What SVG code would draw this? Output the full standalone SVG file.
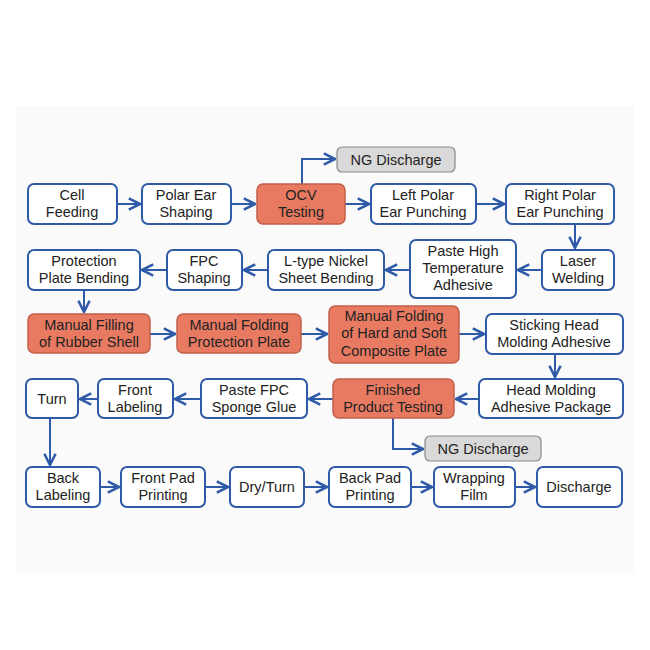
<svg xmlns="http://www.w3.org/2000/svg" width="650" height="650" viewBox="0 0 650 650">
<defs>
<marker id="a" viewBox="0 0 10 10" refX="9" refY="5" markerWidth="7" markerHeight="7" orient="auto"><path d="M1,1 L9,5 L1,9" fill="none" stroke="#2e5aa8" stroke-width="1.8"/></marker>
<style>
.n rect{fill:#fff;stroke:#2e5aa8;stroke-width:2}
.r rect{fill:#e87a62;stroke:#c0604a;stroke-width:1.5}
.g rect{fill:#d9d9d9;stroke:#888;stroke-width:1.2}
text{font-family:"Liberation Sans",Arial,sans-serif;font-size:14.5px;fill:#222;text-anchor:middle}
#c path{fill:none;stroke:#2e5aa8;stroke-width:2;marker-end:url(#a)}
</style>
</defs>
<rect width="650" height="650" fill="#fff"/>
<rect x="16" y="106" width="618" height="466" fill="#fafafa"/>
<g id="c">
<path d="M117,204H140"/><path d="M231,204H255"/><path d="M345,204H369"/><path d="M476,204H504"/>
<path d="M302,184V159H335"/>
<path d="M575,224V248"/><path d="M542,270H518"/><path d="M410,270H386"/><path d="M268,270H244"/><path d="M167,270H142"/>
<path d="M84,290V312"/>
<path d="M150,334H175"/><path d="M301,334H327"/><path d="M459,334H484"/>
<path d="M555,354V377"/><path d="M479,399H456"/><path d="M333,399H309"/><path d="M201,399H175"/><path d="M98,399H80"/>
<path d="M393,418V449H423"/>
<path d="M50,418V465"/>
<path d="M100,487H119"/><path d="M205,487H228"/><path d="M304,487H327"/><path d="M411,487H432"/><path d="M515,487H535"/>
</g>
<g id="n1" class="n"><rect x="28" y="184" width="89" height="40" rx="6"/><text x="72" y="200">Cell</text><text x="72" y="217">Feeding</text></g>
<g id="n2" class="n"><rect x="142" y="184" width="89" height="40" rx="6"/><text x="186" y="200">Polar Ear</text><text x="186" y="217">Shaping</text></g>
<g id="n3" class="r"><rect x="257" y="184" width="88" height="40" rx="6"/><text x="301" y="200">OCV</text><text x="301" y="217">Testing</text></g>
<g id="n4" class="n"><rect x="371" y="184" width="105" height="40" rx="6"/><text x="423" y="200">Left Polar</text><text x="423" y="217">Ear Punching</text></g>
<g id="n5" class="n"><rect x="506" y="184" width="108" height="40" rx="6"/><text x="560" y="200">Right Polar</text><text x="560" y="217">Ear Punching</text></g>
<g id="ng1" class="g"><rect x="337" y="147" width="118" height="25" rx="5"/><text x="396" y="165">NG Discharge</text></g>
<g id="n6" class="n"><rect x="542" y="250" width="72" height="40" rx="6"/><text x="578" y="266">Laser</text><text x="578" y="283">Welding</text></g>
<g id="n7" class="n"><rect x="410" y="240" width="106" height="58" rx="6"/><text x="463" y="256">Paste High</text><text x="463" y="273">Temperature</text><text x="463" y="290">Adhesive</text></g>
<g id="n8" class="n"><rect x="268" y="250" width="116" height="40" rx="6"/><text x="326" y="266">L-type Nickel</text><text x="326" y="283">Sheet Bending</text></g>
<g id="n9" class="n"><rect x="167" y="250" width="75" height="40" rx="6"/><text x="204" y="266">FPC</text><text x="204" y="283">Shaping</text></g>
<g id="n10" class="n"><rect x="28" y="250" width="112" height="40" rx="6"/><text x="84" y="266">Protection</text><text x="84" y="283">Plate Bending</text></g>
<g id="n11" class="r"><rect x="28" y="314" width="122" height="39" rx="6"/><text x="89" y="330">Manual Filling</text><text x="89" y="347">of Rubber Shell</text></g>
<g id="n12" class="r"><rect x="177" y="314" width="124" height="39" rx="6"/><text x="239" y="330">Manual Folding</text><text x="239" y="347">Protection Plate</text></g>
<g id="n13" class="r"><rect x="329" y="306" width="130" height="57" rx="6"/><text x="394" y="321">Manual Folding</text><text x="394" y="338">of Hard and Soft</text><text x="394" y="356">Composite Plate</text></g>
<g id="n14" class="n"><rect x="486" y="314" width="137" height="40" rx="6"/><text x="554" y="330">Sticking Head</text><text x="554" y="347">Molding Adhesive</text></g>
<g id="n15" class="n"><rect x="479" y="379" width="144" height="39" rx="6"/><text x="551" y="395">Head Molding</text><text x="551" y="412">Adhesive Package</text></g>
<g id="n16" class="r"><rect x="333" y="379" width="121" height="39" rx="6"/><text x="393" y="395">Finished</text><text x="393" y="412">Product Testing</text></g>
<g id="n17" class="n"><rect x="201" y="379" width="106" height="39" rx="6"/><text x="254" y="395">Paste FPC</text><text x="254" y="412">Sponge Glue</text></g>
<g id="n18" class="n"><rect x="98" y="379" width="75" height="39" rx="6"/><text x="135" y="395">Front</text><text x="135" y="412">Labeling</text></g>
<g id="n19" class="n"><rect x="26" y="379" width="52" height="39" rx="6"/><text x="52" y="404">Turn</text></g>
<g id="ng2" class="g"><rect x="425" y="436" width="116" height="25" rx="5"/><text x="483" y="454">NG Discharge</text></g>
<g id="n20" class="n"><rect x="26" y="467" width="74" height="40" rx="6"/><text x="63" y="483">Back</text><text x="63" y="500">Labeling</text></g>
<g id="n21" class="n"><rect x="121" y="467" width="84" height="40" rx="6"/><text x="163" y="483">Front Pad</text><text x="163" y="500">Printing</text></g>
<g id="n22" class="n"><rect x="230" y="467" width="74" height="40" rx="6"/><text x="267" y="492">Dry/Turn</text></g>
<g id="n23" class="n"><rect x="329" y="467" width="82" height="40" rx="6"/><text x="370" y="483">Back Pad</text><text x="370" y="500">Printing</text></g>
<g id="n24" class="n"><rect x="434" y="467" width="81" height="40" rx="6"/><text x="474" y="483">Wrapping</text><text x="474" y="500">Film</text></g>
<g id="n25" class="n"><rect x="537" y="467" width="85" height="40" rx="6"/><text x="579" y="492">Discharge</text></g>
</svg>
